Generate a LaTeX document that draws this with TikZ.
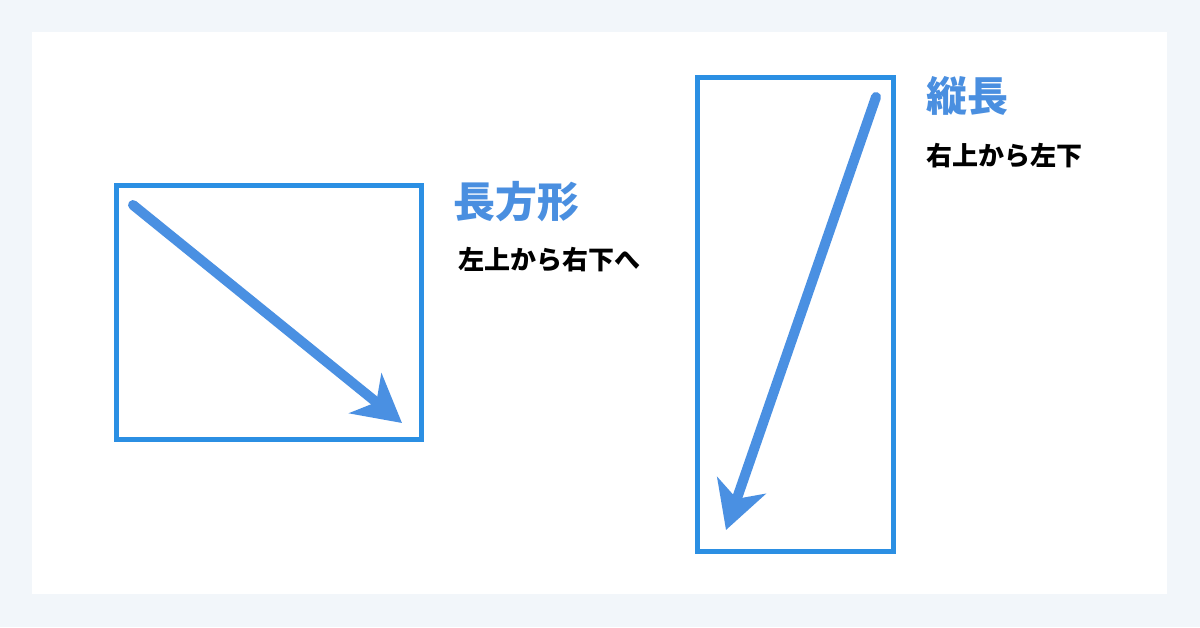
\documentclass[tikz,border=0pt]{standalone}
\usepackage{fontspec}
\newfontfamily\cjk{Noto Sans CJK JP}
\usetikzlibrary{arrows.meta}
\definecolor{bgc}{HTML}{F2F6FA}
\definecolor{boxc}{HTML}{2B8FE3}
\definecolor{arrc}{HTML}{4A90E2}
\definecolor{titc}{HTML}{4A8FE0}
\tikzset{
  frame/.style={draw=boxc, line width=5pt},
  bigarrow/.style={draw=arrc, line width=10pt, line cap=round,
    -{Stealth[length=47pt,width=51pt,inset=14pt,fill=arrc,color=arrc]}},
  title/.style={anchor=base west, inner sep=0pt, text=titc, font=\cjk\bfseries\fontsize{42}{46}\selectfont},
  sub/.style={anchor=base west, inner sep=0pt, text=black, font=\cjk\bfseries\fontsize{26}{30}\selectfont}
}
\begin{document}
\begin{tikzpicture}[x=1pt,y=-1pt]
\useasboundingbox (0,0) rectangle (1200,627);
\fill[bgc] (0,0) rectangle (1200,627);
\fill[white] (32,32) rectangle (1167,594);
% boxes
\draw[frame] (116.5,185.5) rectangle (421,439);
\draw[frame] (697,77.5) rectangle (893,551.5);
% arrows
\coordinate (a1s) at (133,205);
\coordinate (a1e) at (402,423);
\coordinate (a2s) at (876,97);
\coordinate (a2e) at (726,530);
\draw[bigarrow] (a1s) -- (a1e);
\draw[bigarrow] (a2s) -- (a2e);
% texts
\node[title] (t1) at (453,217.75) {長方形};
\node[sub] (s1) at (458.7,269.75) {左上から右下へ};
\node[title,font=\cjk\bfseries\fontsize{41}{45}\selectfont] (t2) at (926,111.4) {縦長};
\node[sub] (s2) at (926.7,165.75) {右上から左下};
\end{tikzpicture}
\end{document}
